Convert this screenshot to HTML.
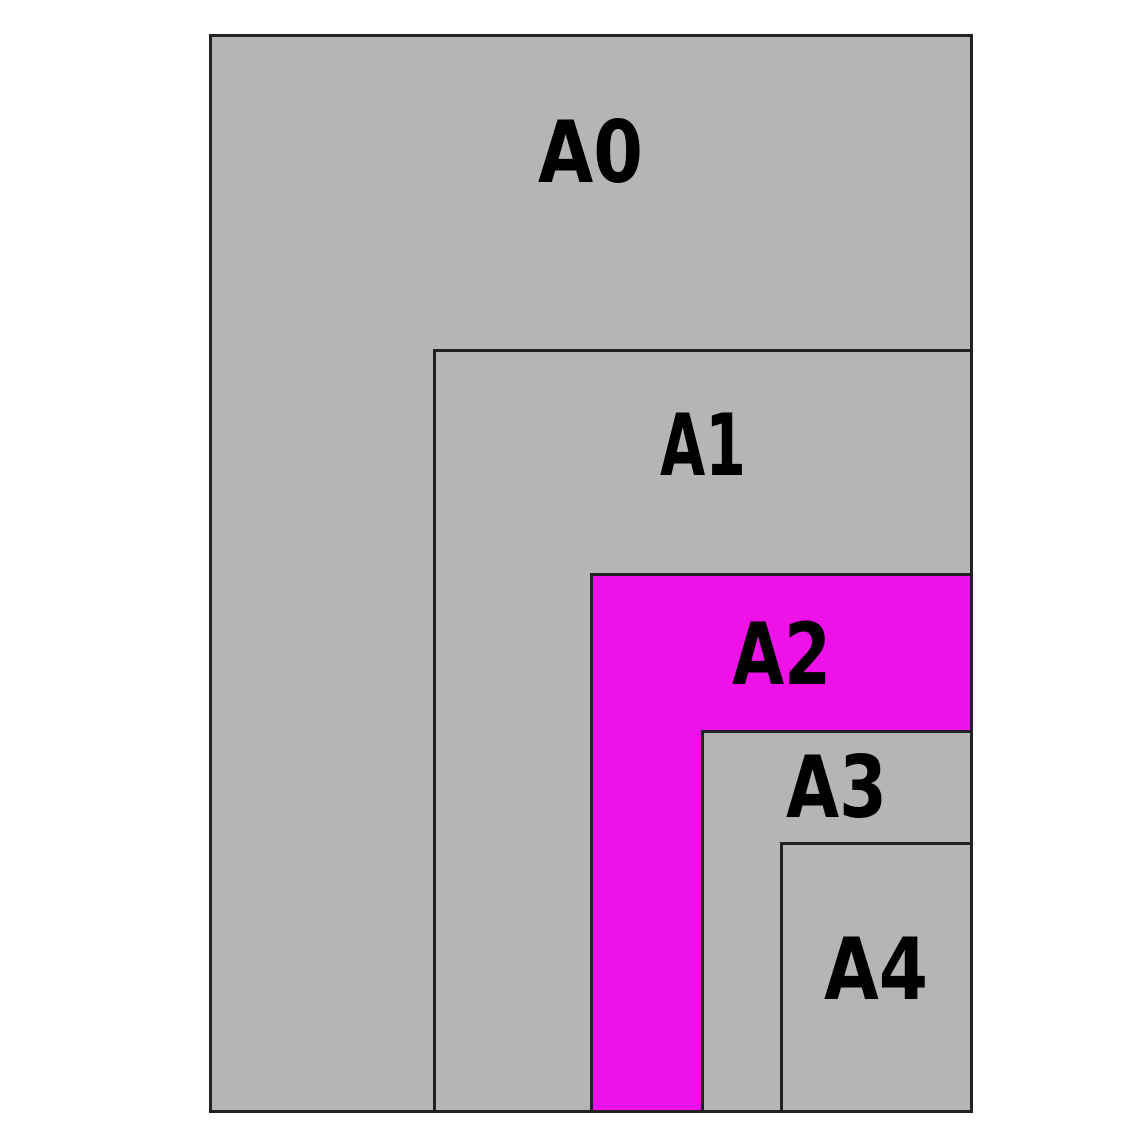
<!DOCTYPE html>
<html><head><style>html,body{margin:0;padding:0;background:#fff}</style></head>
<body>
<svg width="1141" height="1141" viewBox="0 0 1141 1141" xmlns="http://www.w3.org/2000/svg">
<g stroke="#222" stroke-width="3">
<rect x="210.5" y="35.5" width="761" height="1076" fill="#b5b5b5"/>
<rect x="434.5" y="350.5" width="537" height="761" fill="#b5b5b5"/>
<rect x="591.5" y="574.5" width="380" height="537" fill="#ee11e8"/>
<rect x="702.5" y="731.5" width="269" height="380" fill="#b5b5b5"/>
<rect x="781.5" y="843.5" width="190" height="268" fill="#b5b5b5"/>
</g>
<g font-family="DejaVu Sans, Liberation Sans, sans-serif" font-weight="bold" font-size="86" fill="#000">
<text x="538" y="182" textLength="105" lengthAdjust="spacingAndGlyphs">A0</text>
<text x="660" y="475" textLength="86" lengthAdjust="spacingAndGlyphs">A1</text>
<text x="732" y="684" textLength="99" lengthAdjust="spacingAndGlyphs">A2</text>
<text x="786" y="817" textLength="101" lengthAdjust="spacingAndGlyphs">A3</text>
<text x="824" y="999" textLength="104" lengthAdjust="spacingAndGlyphs">A4</text>
</g>
</svg>
</body></html>
